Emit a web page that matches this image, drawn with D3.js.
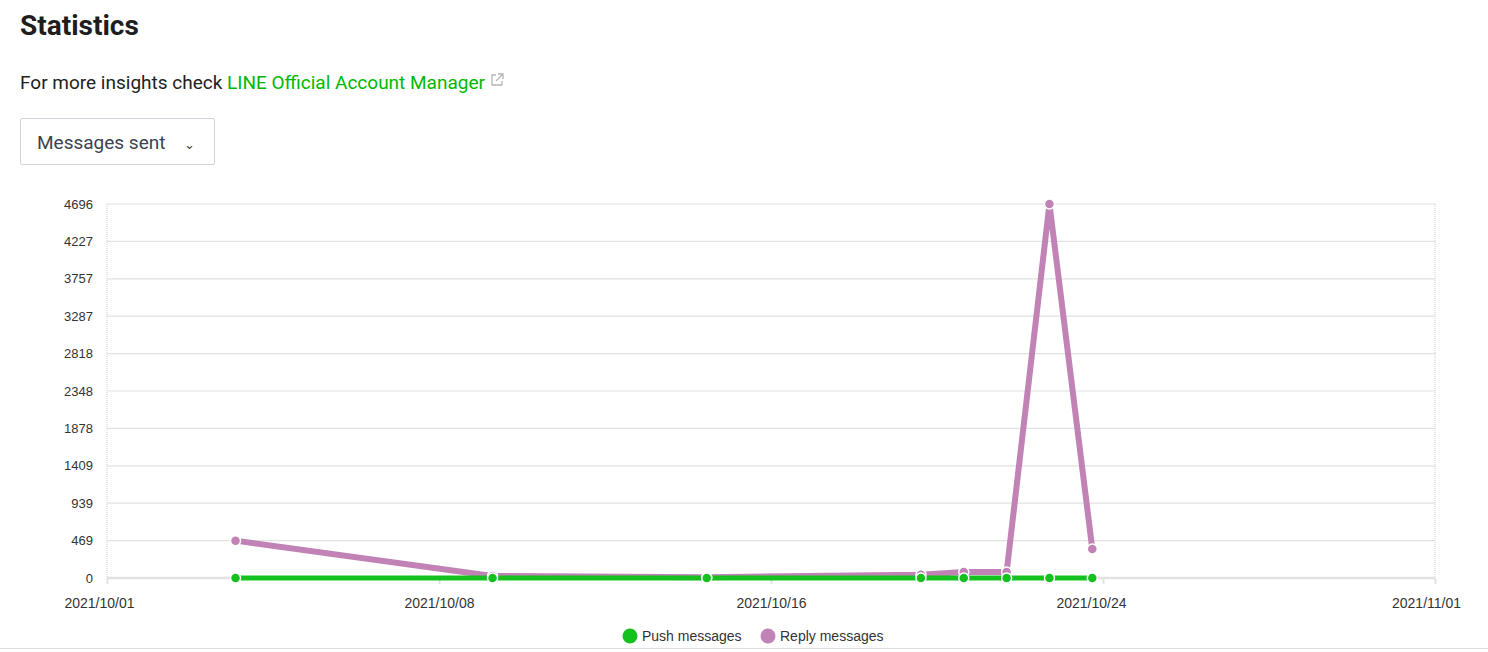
<!DOCTYPE html>
<html><head><meta charset="utf-8">
<script src="https://cdn.jsdelivr.net/npm/d3@7"></script>
<style>
body{margin:0;background:#fff;font-family:Roboto,"Noto Sans",sans-serif;width:1488px;height:652px;overflow:hidden;position:relative}
h1{position:absolute;left:20px;top:9px;margin:0;font-size:28px;font-weight:700;color:#1e1e1e}
.sub{position:absolute;left:20px;top:71px;font-size:19px;color:#222}
.sub a{color:#00b900;text-decoration:none}
.dd{position:absolute;left:20px;top:118px;width:195px;height:47px;border:1px solid #d0d5dc;border-radius:2px;box-sizing:border-box;font-size:19px;color:#3a4450;padding:12px 0 0 16px}
svg{position:absolute;left:0;top:0}
.bottom{position:absolute;left:0;top:648px;width:1488px;height:1px;background:#ddd}
</style></head><body>
<h1>Statistics</h1>
<div class="sub">For more insights check <a>LINE Official Account Manager</a> <svg style="position:relative;display:inline;vertical-align:2px" width="14" height="14" viewBox="0 0 14 14"><path d="M6 2H2v10h10V8M8 1h5v5M13 1L6 8" fill="none" stroke="#b5b5b5" stroke-width="1.3"/></svg></div>
<div class="dd">Messages sent <span style="margin-left:14px;font-size:13px">&#8964;</span></div>
<div class="bottom"></div>
<script>
const dates = ["2021-10-04","2021-10-10","2021-10-15","2021-10-20","2021-10-21","2021-10-22","2021-10-23","2021-10-24"];
const pushValues = [0,0,0,0,0,0,0,0];
const replyValues = [469,25,10,40,75,75,4696,364];
const yTicks = [0,469,939,1409,1878,2348,2818,3287,3757,4227,4696];
const seriesNames = ["Push messages","Reply messages"];
const seriesColors = ["#14c11e","#c183b5"];

const parse = d3.utcParse("%Y-%m-%d");
const svg = d3.select("body").append("svg").attr("width",1488).attr("height",652);
const x = d3.scaleUtc().domain([parse("2021-10-01"),parse("2021-11-01")]).range([107,1435]);
const y = d3.scaleLinear().domain([0,4696]).range([578,204]);

// grid
const g = svg.append("g");
g.selectAll(".gl").data(yTicks).join("line").attr("x1",107).attr("x2",1435)
 .attr("y1",d=>y(d)).attr("y2",d=>y(d)).attr("stroke","#e2e2e2").attr("stroke-width",d=>d===0?2.5:1.2);
g.append("line").attr("x1",107).attr("x2",107).attr("y1",204).attr("y2",578).attr("stroke","#ccc").attr("stroke-dasharray","1,1");
g.append("line").attr("x1",1435).attr("x2",1435).attr("y1",204).attr("y2",578).attr("stroke","#ccc").attr("stroke-dasharray","1,1");

const yAxis = svg.append("g").attr("transform","translate(107,0)")
 .call(d3.axisLeft(y).tickValues(yTicks).tickSize(0).tickPadding(14).tickFormat(d3.format("d")));
yAxis.select(".domain").remove();
yAxis.selectAll("text").attr("font-size",13).attr("fill","#333").attr("font-family","Arial, 'Liberation Sans', sans-serif");

const t0 = x.domain()[0].getTime(), t1 = x.domain()[1].getTime();
const xTicks = d3.range(5).map(i=>new Date(t0+(t1-t0)*i/4));
const xAxis = svg.append("g").attr("transform","translate(0,578)")
 .call(d3.axisBottom(x).tickValues(xTicks).tickSize(6).tickPadding(14).tickFormat(d3.utcFormat("%Y/%m/%d")));
xAxis.select(".domain").remove();
xAxis.selectAll("line").attr("stroke","#e2e2e2").attr("stroke-width",2);
xAxis.selectAll("text").attr("font-size",14).attr("fill","#333").attr("font-family","Arial, 'Liberation Sans', sans-serif");
xAxis.selectAll("text").attr("dx",(d,i)=>i===0?-8:(i===3?-12:(i===4?-9:0)));

const series = [pushValues, replyValues];
const line = d3.line().x((d,i)=>x(parse(dates[i]))).y(d=>y(d));
[1,0].forEach(s=>{
  svg.append("path").datum(series[s]).attr("d",line).attr("fill","none")
    .attr("stroke",seriesColors[s]).attr("stroke-width",s===1?6:5).attr("stroke-linejoin","round");
});
[1,0].forEach(s=>{
  svg.append("g").selectAll("circle").data(series[s]).join("circle")
   .attr("cx",(d,i)=>x(parse(dates[i]))).attr("cy",d=>y(d)).attr("r",5)
   .attr("fill",seriesColors[s]).attr("stroke","#fff").attr("stroke-width",1.5);
});

// legend
const lg = svg.append("g");
const lx = [622, 760];
seriesNames.forEach((n,i)=>{
  lg.append("circle").attr("cx",lx[i]+8).attr("cy",636).attr("r",7.5).attr("fill",seriesColors[i]);
  lg.append("text").attr("x",lx[i]+20).attr("y",641).attr("font-size",14).attr("fill","#333")
    .attr("font-family","Arial, 'Liberation Sans', sans-serif").text(n);
});
</script></body></html>
